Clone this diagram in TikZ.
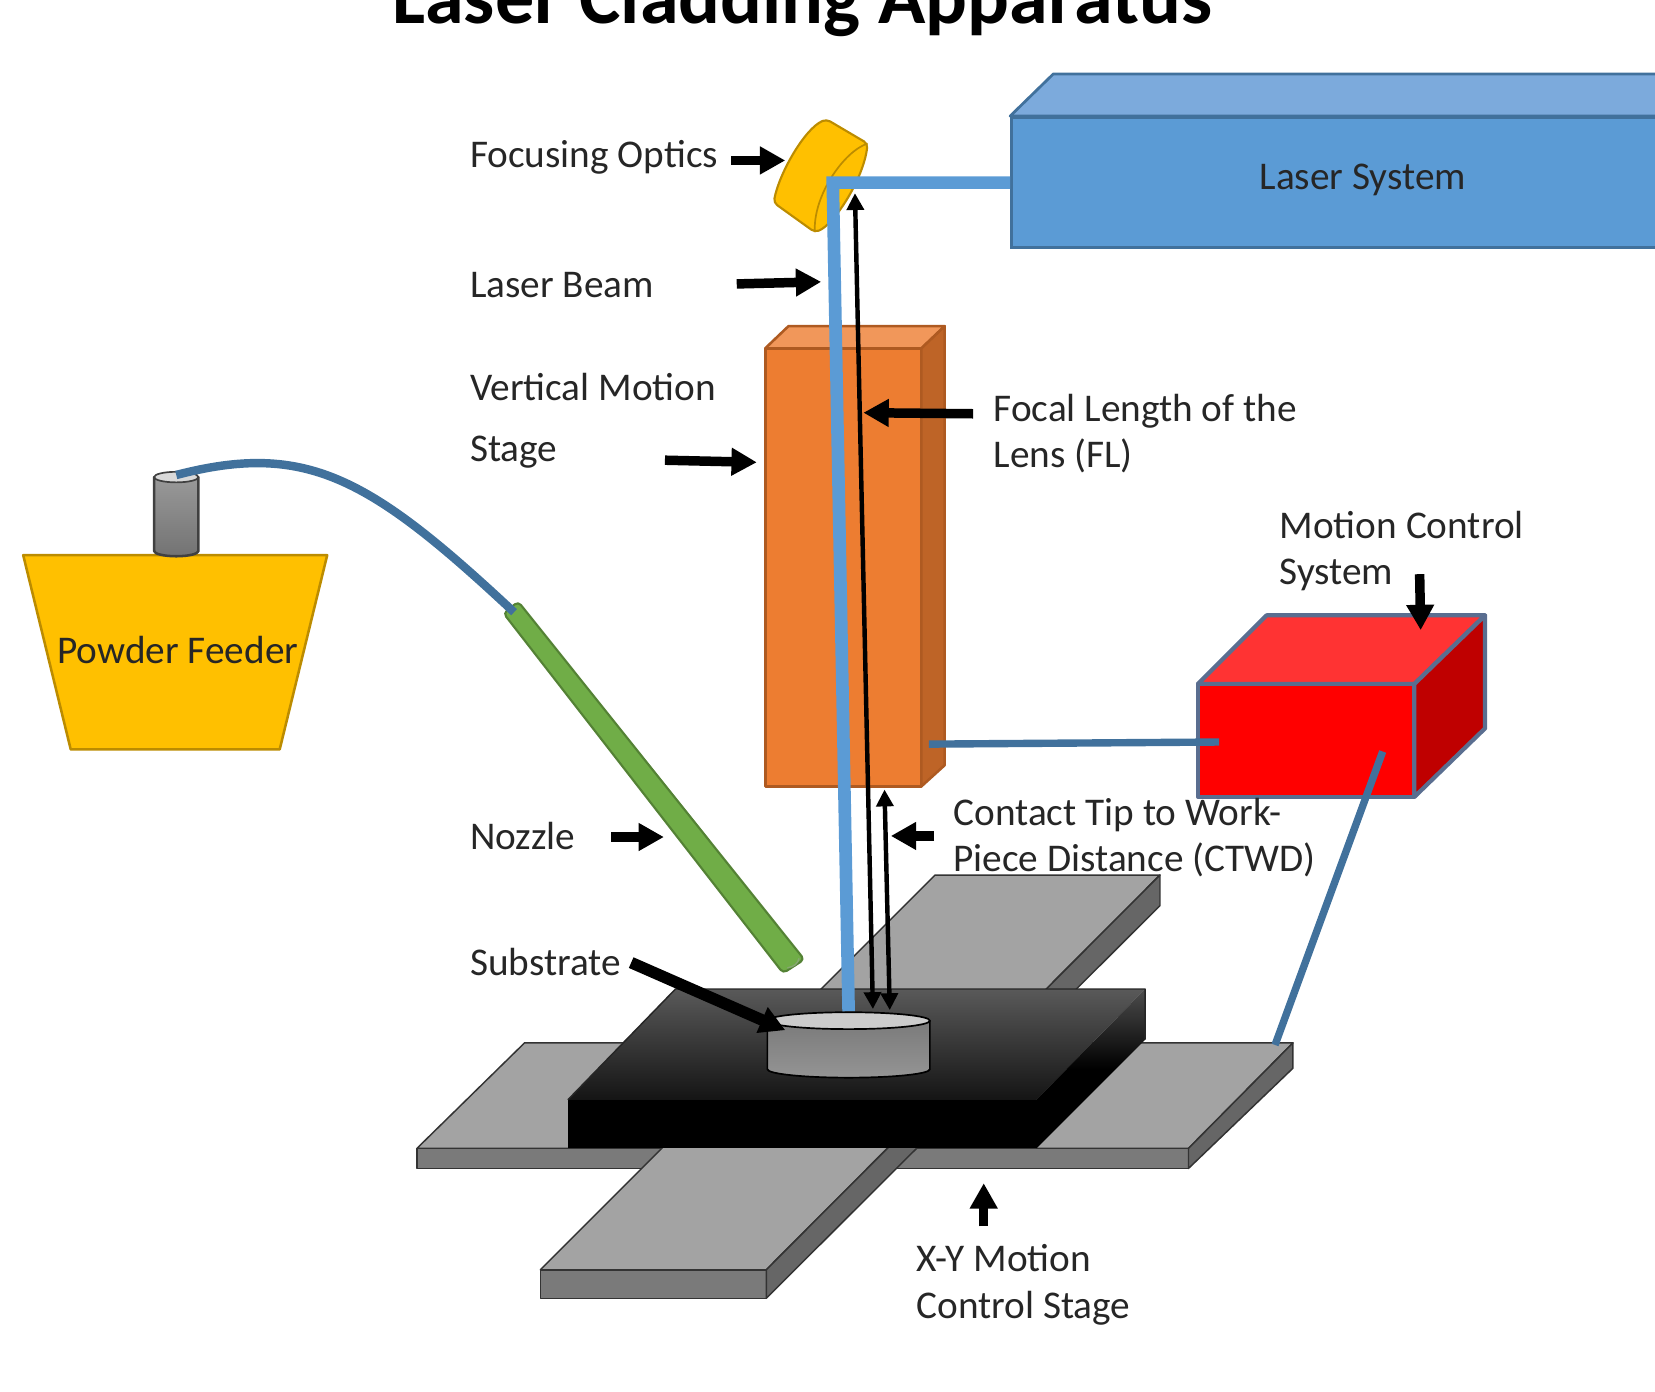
\documentclass[tikz,border=0pt]{standalone}
\usepackage{fontspec}
\setmainfont{Carlito}
\usetikzlibrary{arrows.meta}
\definecolor{txt}{HTML}{262626}
\definecolor{lblue}{HTML}{5B9BD5}
\definecolor{lbluetop}{HTML}{7CAADC}
\definecolor{lblueedge}{HTML}{41719C}
\definecolor{oran}{HTML}{ED7D31}
\definecolor{orantop}{HTML}{F1975A}
\definecolor{oranside}{HTML}{BE6427}
\definecolor{oranedge}{HTML}{AE5A21}
\definecolor{gold}{HTML}{FFC000}
\definecolor{goldedge}{HTML}{BC8C00}
\definecolor{grn}{HTML}{70AD47}
\definecolor{grnedge}{HTML}{548235}
\definecolor{boxedge}{HTML}{5A6E90}
\tikzset{
  x=0.5pt,y=-0.5pt,
  lbl/.style={font=\fontsize{18.6}{22}\selectfont,text=txt,anchor=base west,align=left,inner sep=0pt},
  ptr/.style={line width=4.5pt,black,-{Triangle[length=12pt,width=12.5pt]}},
  dim/.style={line width=2.1pt,black,{Triangle[length=8pt,width=8pt]}-{Triangle[length=8pt,width=8pt]}},
  beam/.style={line width=6pt,lblue},
  cable/.style={line width=3.5pt,lblueedge},
  part/.style={line join=round,line width=0.7pt},
  bar/.style={part,draw=black!80},
  boxface/.style={part,draw=boxedge,line width=2pt},
}
\begin{document}
\begin{tikzpicture}
\path[use as bounding box] (0,0) rectangle (1568,1318);
\clip (0,0) rectangle (1568,1318);
% title
\node[font=\bfseries\fontsize{37}{40}\selectfont,text=black,anchor=base,inner sep=0pt] (title) at (760,22) {Laser Cladding Apparatus};
% laser system
\draw[part,fill=lbluetop,draw=lblueedge,line width=1.3pt] (957,110)--(998,70)--(1600,70)--(1600,110)--cycle;
\node[draw=lblueedge,fill=lblue,line width=1.3pt,minimum width=321.5pt,minimum height=61.5pt,anchor=north west,inner sep=0pt] (laser) at (957,110) {};
\node[lbl] (lasertext) at (1193,180) {Laser System};
% focusing optics
\draw[part,fill=gold,draw=goldedge,line width=1pt,rounded corners=2pt] (783,113) .. controls (762,122) and (738,165) .. (733,192) -- (772,220)
  .. controls (790,213) and (818,170) .. (822,136) -- cycle;
\draw[goldedge,line width=0.8pt] (822,136) .. controls (800,143) and (770,185) .. (772,220);
% XY stage: X bar
\draw[bar,fill=black!36] (497,988)--(1225,988)--(1126,1088)--(395,1088)--cycle;
\draw[bar,fill=black!52] (395,1088) rectangle (1126,1107);
\draw[bar,fill=black!60] (1126,1088)--(1225,988)--(1225,1012)--(1126,1107)--cycle;
% XY stage: Y bar
\draw[bar,fill=black!36] (886,829)--(1099,829)--(726,1203)--(512,1203)--cycle;
\draw[bar,fill=black!52] (512,1203) rectangle (726,1230);
\draw[bar,fill=black!60] (726,1203)--(1099,829)--(1099,858)--(726,1230)--cycle;
% block on stage
\shade[top color=black!65,bottom color=black!92] (640,937)--(1085,937)--(982,1042)--(538,1042)--cycle;
\fill[black] (538,1042) rectangle (982,1088);
\shade[top color=black!70,bottom color=black,middle color=black] (982,1042)--(1085,937)--(1085,985)--(982,1088)--cycle;
\draw[part,black!85] (538,1042)--(640,937)--(1085,937)--(1085,985);
% substrate
\path[part,draw=black,line width=0.8pt,top color=black!52,bottom color=black!42] (727,967)--(727,1013) arc[start angle=180,end angle=0,x radius=77,y radius=8]--(881,967)--cycle;
\draw[part,draw=black,line width=0.8pt,fill=black!20] (804,967) ellipse[x radius=77,y radius=8];
% vertical stage
\draw[part,fill=orantop,draw=oranedge,line width=1.2pt] (725,330)--(747,309)--(895,309)--(873,330)--cycle;
\draw[part,fill=oran,draw=oranedge,line width=1.2pt] (725,330) rectangle (873,745);
\draw[part,fill=oranside,draw=oranedge,line width=1.2pt] (873,330)--(895,309)--(895,725)--(873,745)--cycle;
% feeder
\path[part,fill=gold,draw=goldedge,line width=1.2pt] (22,526)--(310,526)--(265,710)--(67,710)--cycle;
\node[lbl,text=black!85] (feedertext) at (54,629) {Powder Feeder};
% hopper cylinder
\path[part,draw=black!75,top color=black!40,bottom color=black!55,line width=1.2pt] (146,452)--(146,522) arc[start angle=180,end angle=0,x radius=21,y radius=5]--(188,452)--cycle;
\draw[part,draw=black!75,fill=black!15,line width=0.8pt] (167,452) ellipse[x radius=21,y radius=5];
% nozzle
\draw[part,fill=grn,draw=grnedge,line width=1pt,rounded corners=2pt] (477,581)--(491,570)--(762,909)--(742,922)--cycle;
\draw[grnedge!70!white,line width=0.7pt] (746,917) .. controls (752,916) and (756,913) .. (757,908);
% tube
\coordinate (tubeA) at (167,450);
\coordinate (tubeB) at (487,580);
\draw[cable,line width=4pt] (tubeA) .. controls (290,418) and (350,452) .. (tubeB);
% beam
\coordinate (beamA) at (957,173);
\coordinate (beamB) at (789,173);
\coordinate (beamC) at (804,958);
\draw[beam,line join=miter] (beamA)--(beamB)--(beamC);
% dimension arrows
\coordinate (flA) at (810,183);
\coordinate (flB) at (827,956);
\draw[dim] (flA)--(flB);
\coordinate (ctA) at (838,748);
\coordinate (ctB) at (843,957);
\draw[dim] (ctA)--(ctB);
% control box
\draw[boxface,fill=red!80!white] (1135,648)--(1200,583)--(1407,583)--(1340,648)--cycle;
\draw[boxface,fill=red] (1135,648) rectangle (1340,755);
\draw[boxface,fill=red!75!black] (1340,648)--(1407,583)--(1407,690)--(1340,755)--cycle;
% cables
\coordinate (c1A) at (880,705);
\coordinate (c1B) at (1155,703);
\draw[cable] (c1A)--(c1B);
\coordinate (c2A) at (1310,712);
\coordinate (c2B) at (1208,990);
\draw[cable] (c2A)--(c2B);
% labels
\node[lbl] (foc) at (445,159) {Focusing Optics};
\node[lbl] (lb) at (445,282) {Laser Beam};
\node[lbl,font=\fontsize{18.6}{29}\selectfont] (vm) at (445,437) {Vertical Motion\\Stage};
\node[lbl] (fl) at (941,443) {Focal Length of the\\Lens (FL)};
\node[lbl] (mc) at (1212,554) {Motion Control\\System};
\node[lbl] (ct) at (903,826) {Contact Tip to Work-\\Piece Distance (CTWD)};
\node[lbl] (noz) at (445,805) {Nozzle};
\node[lbl] (sub) at (445,924) {Substrate};
\node[lbl] (xy) at (868,1249) {X-Y Motion\\Control Stage};
% pointers
\coordinate (p1A) at (693,152); \coordinate (p1B) at (744,152);
\draw[ptr] (p1A)--(p1B);
\coordinate (p2A) at (698,269); \coordinate (p2B) at (778,267);
\draw[ptr] (p2A)--(p2B);
\coordinate (p3A) at (630,436); \coordinate (p3B) at (717,438);
\draw[ptr] (p3A)--(p3B);
\coordinate (p4A) at (922,392); \coordinate (p4B) at (818,391);
\draw[ptr] (p4A)--(p4B);
\coordinate (p5A) at (1345,544); \coordinate (p5B) at (1346,597);
\draw[ptr] (p5A)--(p5B);
\coordinate (p6A) at (885,792); \coordinate (p6B) at (844,792);
\draw[ptr] (p6A)--(p6B);
\coordinate (p7A) at (579,793); \coordinate (p7B) at (629,793);
\draw[ptr] (p7A)--(p7B);
\coordinate (p8A) at (598,912); \coordinate (p8B) at (744,976);
\draw[ptr,line width=5.5pt] (p8A)--(p8B);
\coordinate (p9A) at (932,1162); \coordinate (p9B) at (932,1121);
\draw[ptr] (p9A)--(p9B);
\end{tikzpicture}
\end{document}
